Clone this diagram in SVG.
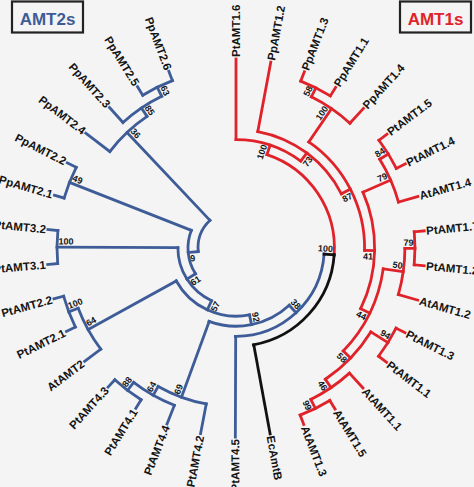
<svg xmlns="http://www.w3.org/2000/svg" width="474" height="487" viewBox="0 0 474 487">
<style>
.c line, .c circle { fill: none; stroke-width: 2.8; stroke-linecap: square; }
.r { stroke: #e0232a; }
.b { stroke: #3e5c98; }
.k { stroke: #111111; }
.leaf { font-family: "Liberation Sans", Arial, sans-serif; font-weight: bold; font-size: 11.5px; fill: #141414; dominant-baseline: central; }
.bs { font-family: "Liberation Sans", Arial, sans-serif; font-weight: bold; font-size: 9px; fill: #141414; }
.bsr { text-anchor: end; }
.lft { text-anchor: end; }
.title { font-family: "Liberation Sans", Arial, sans-serif; font-weight: bold; font-size: 17px; text-anchor: middle; }
</style>
<rect x="0" y="0" width="474" height="487" fill="#f4f4f4"/>
<g id="legend-amt2s">
  <rect x="12" y="1.5" width="71" height="31" fill="none" stroke="#222" stroke-width="2.2"/>
  <text class="title" x="47.5" y="24.5" fill="#3e5c98">AMT2s</text>
</g>
<g id="legend-amt1s">
  <rect x="400" y="1.5" width="71" height="31" fill="none" stroke="#222" stroke-width="2.2"/>
  <text class="title" x="435.5" y="24.5" fill="#e0232a">AMT1s</text>
</g>
<g transform="translate(236,248)">
<g id="connectors" class="c">
  <circle class="r" r="179" stroke-dasharray="33.12 2000" transform="rotate(-68.8)"/>
  <circle class="r" r="168.9" stroke-dasharray="46.87 2000" transform="rotate(-63.5)"/>
  <circle class="r" r="179" stroke-dasharray="33.12 2000" transform="rotate(-37)"/>
  <circle class="r" r="168.9" stroke-dasharray="46.87 2000" transform="rotate(-31.7)"/>
  <circle class="r" r="179" stroke-dasharray="33.12 2000" transform="rotate(-5.2)"/>
  <circle class="r" r="168.9" stroke-dasharray="46.87 2000" transform="rotate(0.1)"/>
  <circle class="r" r="179" stroke-dasharray="33.12 2000" transform="rotate(26.6)"/>
  <circle class="r" r="179" stroke-dasharray="33.12 2000" transform="rotate(58.4)"/>
  <circle class="r" r="168.9" stroke-dasharray="46.87 2000" transform="rotate(47.8)"/>
  <circle class="r" r="158.8" stroke-dasharray="66.10 2000" transform="rotate(31.9)"/>
  <circle class="r" r="148.7" stroke-dasharray="92.85 2000" transform="rotate(8.05)"/>
  <circle class="r" r="138.65" stroke-dasharray="120.25 2000" transform="rotate(-23.75)"/>
  <circle class="r" r="128.6" stroke-dasharray="127.13 2000" transform="rotate(-55.55)"/>
  <circle class="r" r="118.5" stroke-dasharray="107.9 2000" transform="rotate(-79.4)"/>
  <circle class="r" r="108.4" stroke-dasharray="69.41 2000" transform="rotate(-90)"/>
  <circle class="r" r="98.4" stroke-dasharray="129.88 2000" transform="rotate(-71.657)"/>
  <circle class="k" r="98.4" stroke-dasharray="129.88 2000" transform="rotate(3.971)"/>
  <circle class="b" r="88.3" stroke-dasharray="132.89 2000" transform="rotate(3.971)"/>
  <circle class="b" r="78.2" stroke-dasharray="85.97 2000" transform="rotate(47.086)"/>
  <circle class="b" r="68.2" stroke-dasharray="86.38 2000" transform="rotate(78.58)"/>
  <circle class="b" r="58.1" stroke-dasharray="66.35 2000" transform="rotate(114.865)"/>
  <circle class="b" r="48" stroke-dasharray="45.17 2000" transform="rotate(147.583)"/>
  <circle class="b" r="37.95" stroke-dasharray="34.53 2000" transform="rotate(174.541)"/>
  <circle class="b" r="158.8" stroke-dasharray="51.41 2000" transform="rotate(100.8)"/>
  <circle class="b" r="168.9" stroke-dasharray="46.87 2000" transform="rotate(111.4)"/>
  <circle class="b" r="179" stroke-dasharray="33.12 2000" transform="rotate(122)"/>
  <circle class="b" r="168.9" stroke-dasharray="46.87 2000" transform="rotate(143.2)"/>
  <circle class="b" r="179" stroke-dasharray="33.12 2000" transform="rotate(153.8)"/>
  <circle class="b" r="179" stroke-dasharray="33.12 2000" transform="rotate(175)"/>
  <circle class="b" r="179" stroke-dasharray="33.12 2000" transform="rotate(196.2)"/>
  <circle class="b" r="158.8" stroke-dasharray="51.41 2000" transform="rotate(217.4)"/>
  <circle class="b" r="168.9" stroke-dasharray="46.87 2000" transform="rotate(228)"/>
  <circle class="b" r="179" stroke-dasharray="33.12 2000" transform="rotate(238.6)"/>
  <line class="r" x1="108.4" x2="189" transform="rotate(-90)"/>
  <line class="r" x1="118.5" x2="189" transform="rotate(-79.4)"/>
  <line class="r" x1="179" x2="189" transform="rotate(-68.8)"/>
  <line class="r" x1="179" x2="189" transform="rotate(-58.2)"/>
  <line class="r" x1="168.9" x2="189" transform="rotate(-47.6)"/>
  <line class="r" x1="179" x2="189" transform="rotate(-37)"/>
  <line class="r" x1="179" x2="189" transform="rotate(-26.4)"/>
  <line class="r" x1="168.9" x2="189" transform="rotate(-15.8)"/>
  <line class="r" x1="179" x2="189" transform="rotate(-5.2)"/>
  <line class="r" x1="179" x2="189" transform="rotate(5.4)"/>
  <line class="r" x1="168.9" x2="189" transform="rotate(16)"/>
  <line class="r" x1="179" x2="189" transform="rotate(26.6)"/>
  <line class="r" x1="179" x2="189" transform="rotate(37.2)"/>
  <line class="r" x1="168.9" x2="189" transform="rotate(47.8)"/>
  <line class="r" x1="179" x2="189" transform="rotate(58.4)"/>
  <line class="r" x1="179" x2="189" transform="rotate(69)"/>
  <line class="k" x1="98.4" x2="189" transform="rotate(79.6)"/>
  <line class="r" x1="168.9" x2="179" transform="rotate(-63.5)"/>
  <line class="r" x1="128.6" x2="168.9" transform="rotate(-55.55)"/>
  <line class="r" x1="168.9" x2="179" transform="rotate(-31.7)"/>
  <line class="r" x1="138.65" x2="168.9" transform="rotate(-23.75)"/>
  <line class="r" x1="168.9" x2="179" transform="rotate(0.1)"/>
  <line class="r" x1="148.7" x2="168.9" transform="rotate(8.05)"/>
  <line class="r" x1="158.8" x2="179" transform="rotate(31.9)"/>
  <line class="r" x1="168.9" x2="179" transform="rotate(63.7)"/>
  <line class="r" x1="158.8" x2="168.9" transform="rotate(55.75)"/>
  <line class="r" x1="148.7" x2="158.8" transform="rotate(43.825)"/>
  <line class="r" x1="138.65" x2="148.7" transform="rotate(25.94)"/>
  <line class="r" x1="128.6" x2="138.65" transform="rotate(1.09)"/>
  <line class="r" x1="118.5" x2="128.6" transform="rotate(-27.23)"/>
  <line class="r" x1="108.4" x2="118.5" transform="rotate(-53.315)"/>
  <line class="r" x1="98.4" x2="108.4" transform="rotate(-71.657)"/>
  <line class="k" x1="88.3" x2="98.4" transform="rotate(3.971)"/>
  <line class="b" x1="78.2" x2="88.3" transform="rotate(47.086)"/>
  <line class="b" x1="88.3" x2="189" transform="rotate(90.2)"/>
  <line class="b" x1="68.2" x2="78.2" transform="rotate(78.58)"/>
  <line class="b" x1="78.2" x2="158.8" transform="rotate(110.075)"/>
  <line class="b" x1="158.8" x2="189" transform="rotate(100.8)"/>
  <line class="b" x1="158.8" x2="168.9" transform="rotate(119.35)"/>
  <line class="b" x1="168.9" x2="189" transform="rotate(111.4)"/>
  <line class="b" x1="168.9" x2="179" transform="rotate(127.3)"/>
  <line class="b" x1="179" x2="189" transform="rotate(122)"/>
  <line class="b" x1="179" x2="189" transform="rotate(132.6)"/>
  <line class="b" x1="58.1" x2="68.2" transform="rotate(114.865)"/>
  <line class="b" x1="68.2" x2="168.9" transform="rotate(151.15)"/>
  <line class="b" x1="168.9" x2="189" transform="rotate(143.2)"/>
  <line class="b" x1="168.9" x2="179" transform="rotate(159.1)"/>
  <line class="b" x1="179" x2="189" transform="rotate(153.8)"/>
  <line class="b" x1="179" x2="189" transform="rotate(164.4)"/>
  <line class="b" x1="48" x2="58.1" transform="rotate(147.583)"/>
  <line class="b" x1="58.1" x2="179" transform="rotate(180.3)"/>
  <line class="b" x1="179" x2="189" transform="rotate(175)"/>
  <line class="b" x1="179" x2="189" transform="rotate(185.6)"/>
  <line class="b" x1="37.95" x2="48" transform="rotate(174.541)"/>
  <line class="b" x1="48" x2="179" transform="rotate(201.5)"/>
  <line class="b" x1="179" x2="189" transform="rotate(196.2)"/>
  <line class="b" x1="179" x2="189" transform="rotate(206.8)"/>
  <line class="b" x1="37.95" x2="158.8" transform="rotate(226.675)"/>
  <line class="b" x1="158.8" x2="189" transform="rotate(217.4)"/>
  <line class="b" x1="158.8" x2="168.9" transform="rotate(235.95)"/>
  <line class="b" x1="168.9" x2="189" transform="rotate(228)"/>
  <line class="b" x1="168.9" x2="179" transform="rotate(243.9)"/>
  <line class="b" x1="179" x2="189" transform="rotate(238.6)"/>
  <line class="b" x1="179" x2="189" transform="rotate(249.2)"/>
</g>
<g id="leaves">
  <g id="leaf-PtAMT1.6"><text class="leaf" x="191" transform="rotate(-90)">PtAMT1.6</text></g>
  <g id="leaf-PpAMT1.2"><text class="leaf" x="191" transform="rotate(-79.4)">PpAMT1.2</text></g>
  <g id="leaf-PpAMT1.3"><text class="leaf" x="191" transform="rotate(-68.8)">PpAMT1.3</text></g>
  <g id="leaf-PpAMT1.1"><text class="leaf" x="191" transform="rotate(-58.2)">PpAMT1.1</text></g>
  <g id="leaf-PpAMT1.4"><text class="leaf" x="191" transform="rotate(-47.6)">PpAMT1.4</text></g>
  <g id="leaf-PtAMT1.5"><text class="leaf" x="191" transform="rotate(-37)">PtAMT1.5</text></g>
  <g id="leaf-PtAMT1.4"><text class="leaf" x="191" transform="rotate(-26.4)">PtAMT1.4</text></g>
  <g id="leaf-AtAMT1.4"><text class="leaf" x="191" transform="rotate(-15.8)">AtAMT1.4</text></g>
  <g id="leaf-PtAMT1.7"><text class="leaf" x="191" transform="rotate(-5.2)">PtAMT1.7</text></g>
  <g id="leaf-PtAMT1.2"><text class="leaf" x="191" transform="rotate(5.4)">PtAMT1.2</text></g>
  <g id="leaf-AtAMT1.2"><text class="leaf" x="191" transform="rotate(16)">AtAMT1.2</text></g>
  <g id="leaf-PtAMT1.3"><text class="leaf" x="191" transform="rotate(26.6)">PtAMT1.3</text></g>
  <g id="leaf-PtAMT1.1"><text class="leaf" x="191" transform="rotate(37.2)">PtAMT1.1</text></g>
  <g id="leaf-AtAMT1.1"><text class="leaf" x="191" transform="rotate(47.8)">AtAMT1.1</text></g>
  <g id="leaf-AtAMT1.5"><text class="leaf" x="191" transform="rotate(58.4)">AtAMT1.5</text></g>
  <g id="leaf-AtAMT1.3"><text class="leaf" x="191" transform="rotate(69)">AtAMT1.3</text></g>
  <g id="leaf-EcAmtB"><text class="leaf" x="191" transform="rotate(79.6)">EcAmtB</text></g>
  <g id="leaf-PtAMT4.5"><text class="leaf lft" x="-191" transform="rotate(-89.8)">PtAMT4.5</text></g>
  <g id="leaf-PtAMT4.2"><text class="leaf lft" x="-191" transform="rotate(-79.2)">PtAMT4.2</text></g>
  <g id="leaf-PtAMT4.4"><text class="leaf lft" x="-191" transform="rotate(-68.6)">PtAMT4.4</text></g>
  <g id="leaf-PtAMT4.1"><text class="leaf lft" x="-191" transform="rotate(-58)">PtAMT4.1</text></g>
  <g id="leaf-PtAMT4.3"><text class="leaf lft" x="-191" transform="rotate(-47.4)">PtAMT4.3</text></g>
  <g id="leaf-AtAMT2"><text class="leaf lft" x="-191" transform="rotate(-36.8)">AtAMT2</text></g>
  <g id="leaf-PtAMT2.1"><text class="leaf lft" x="-191" transform="rotate(-26.2)">PtAMT2.1</text></g>
  <g id="leaf-PtAMT2.2"><text class="leaf lft" x="-191" transform="rotate(-15.6)">PtAMT2.2</text></g>
  <g id="leaf-PtAMT3.1"><text class="leaf lft" x="-191" transform="rotate(-5)">PtAMT3.1</text></g>
  <g id="leaf-PtAMT3.2"><text class="leaf lft" x="-191" transform="rotate(5.6)">PtAMT3.2</text></g>
  <g id="leaf-PpAMT2.1"><text class="leaf lft" x="-191" transform="rotate(16.2)">PpAMT2.1</text></g>
  <g id="leaf-PpAMT2.2"><text class="leaf lft" x="-191" transform="rotate(26.8)">PpAMT2.2</text></g>
  <g id="leaf-PpAMT2.4"><text class="leaf lft" x="-191" transform="rotate(37.4)">PpAMT2.4</text></g>
  <g id="leaf-PpAMT2.3"><text class="leaf lft" x="-191" transform="rotate(48)">PpAMT2.3</text></g>
  <g id="leaf-PpAMT2.5"><text class="leaf lft" x="-191" transform="rotate(58.6)">PpAMT2.5</text></g>
  <g id="leaf-PpAMT2.6"><text class="leaf lft" x="-191" transform="rotate(69.2)">PpAMT2.6</text></g>
</g>
<g id="bootstrap">
  <g id="n58a"><text class="bs bsr" x="177.5" y="-2.5" transform="rotate(-63.5)">58</text></g>
  <g id="n100b"><text class="bs bsr" x="167.4" y="-2.5" transform="rotate(-55.55)">100</text></g>
  <g id="n84"><text class="bs bsr" x="177.5" y="-2.5" transform="rotate(-31.7)">84</text></g>
  <g id="n79a"><text class="bs bsr" x="167.4" y="-2.5" transform="rotate(-23.75)">79</text></g>
  <g id="n79b"><text class="bs bsr" x="177.5" y="-2.5" transform="rotate(0.1)">79</text></g>
  <g id="n50"><text class="bs bsr" x="167.4" y="-2.5" transform="rotate(8.05)">50</text></g>
  <g id="n94"><text class="bs bsr" x="177.5" y="-2.5" transform="rotate(31.9)">94</text></g>
  <g id="n99"><text class="bs bsr" x="177.5" y="9" transform="rotate(63.7)">99</text></g>
  <g id="n46"><text class="bs bsr" x="167.4" y="9" transform="rotate(55.75)">46</text></g>
  <g id="n58b"><text class="bs bsr" x="157.3" y="9" transform="rotate(43.825)">58</text></g>
  <g id="n44"><text class="bs bsr" x="147.2" y="9" transform="rotate(25.94)">44</text></g>
  <g id="n41"><text class="bs bsr" x="137.15" y="9" transform="rotate(1.09)">41</text></g>
  <g id="n87"><text class="bs bsr" x="127.1" y="9" transform="rotate(-27.23)">87</text></g>
  <g id="n73"><text class="bs bsr" x="117" y="9" transform="rotate(-53.315)">73</text></g>
  <g id="n100a"><text class="bs bsr" x="106.9" y="-2.5" transform="rotate(-71.657)">100</text></g>
  <g id="n100root"><text class="bs bsr" x="96.9" y="-2.5" transform="rotate(3.971)">100</text></g>
  <g id="n38"><text class="bs bsr" x="86.8" y="-2.5" transform="rotate(47.086)">38</text></g>
  <g id="n92"><text class="bs bsr" x="76.7" y="-2.5" transform="rotate(78.58)">92</text></g>
  <g id="n57"><text class="bs" x="-66.7" y="9" transform="rotate(-65.135)">57</text></g>
  <g id="n61"><text class="bs" x="-56.6" y="9" transform="rotate(-32.417)">61</text></g>
  <g id="n9"><text class="bs" x="-46.5" y="9" transform="rotate(-5.459)">9</text></g>
  <g id="n69"><text class="bs" x="-157.3" y="-2.5" transform="rotate(-69.925)">69</text></g>
  <g id="n64b"><text class="bs" x="-167.4" y="-2.5" transform="rotate(-60.65)">64</text></g>
  <g id="n88"><text class="bs" x="-177.5" y="-2.5" transform="rotate(-52.7)">88</text></g>
  <g id="n64a"><text class="bs" x="-167.4" y="-2.5" transform="rotate(-28.85)">64</text></g>
  <g id="n100p2"><text class="bs" x="-177.5" y="-2.5" transform="rotate(-20.9)">100</text></g>
  <g id="n100p3"><text class="bs" x="-177.5" y="-2.5" transform="rotate(0.3)">100</text></g>
  <g id="n49"><text class="bs" x="-177.5" y="-2.5" transform="rotate(21.5)">49</text></g>
  <g id="n36"><text class="bs" x="-157.3" y="-2.5" transform="rotate(46.675)">36</text></g>
  <g id="n85"><text class="bs" x="-167.4" y="-2.5" transform="rotate(55.95)">85</text></g>
  <g id="n63"><text class="bs" x="-177.5" y="-2.5" transform="rotate(63.9)">63</text></g>
</g>
</g>
</svg>
